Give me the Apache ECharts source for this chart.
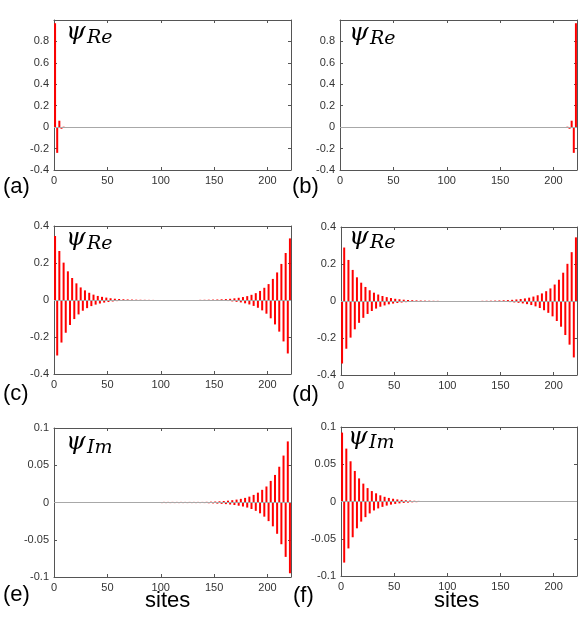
<!DOCTYPE html>
<html>
<head>
<meta charset="utf-8">
<script src="https://cdn.jsdelivr.net/npm/echarts@6/dist/echarts.min.js"></script>
<style>
html,body{margin:0;padding:0;background:#fff;}
#chart{width:582px;height:617px;}
</style>
</head>
<body>
<div id="chart"></div>
<script>
// ---- data ----
const panelLabels = ['(a)', '(b)', '(c)', '(d)', '(e)', '(f)'];
const psiSubs = ['Re', 'Re', 'Re', 'Re', 'Im', 'Im'];
const xTicks = [0, 50, 100, 150, 200];

const sitesA = [1, 3, 5, 7, 9, 11];
const valuesA = [0.97, -0.24, 0.06, -0.015, 0.004, -0.001];

const sitesB = [211, 213, 215, 217, 219, 221];
const valuesB = [-0.001, 0.004, -0.015, 0.06, -0.24, 0.97];

const sitesC = [1,3,5,7,9,11,13,15,17,19,21,23,25,27,29,31,33,35,37,39,41,43,45,47,49,51,53,55,57,59,61,63,65,67,69,71,73,75,77,79,81,83,85,87,89,91,93,
  135,137,139,141,143,145,147,149,151,153,155,157,159,161,163,165,167,169,171,173,175,177,179,181,183,185,187,189,191,193,195,197,199,201,203,205,207,209,211,213,215,217,219,221];
const valuesC = [0.346,-0.300,0.265,-0.230,0.202,-0.177,0.155,-0.135,0.119,-0.103,
  0.090,-0.078,0.068,-0.058,0.052,-0.044,0.039,-0.033,0.029,-0.025,
  0.022,-0.019,0.017,-0.014,0.013,-0.011,0.0095,-0.008,0.007,-0.006,
  0.0053,-0.0045,0.004,-0.0034,0.003,-0.0026,0.0023,-0.0019,0.0017,-0.0015,
  0.0013,-0.0011,0.001,-0.0008,0.0007,-0.0006,0.0005,
  -0.0008,0.0009,-0.001,0.0012,-0.0013,0.0016,-0.0018,0.0021,-0.0024,0.0028,
  -0.0032,0.0037,-0.0042,0.005,-0.0056,0.0066,-0.0075,0.009,-0.010,0.012,
  -0.013,0.016,-0.018,0.021,-0.024,0.028,-0.032,0.037,-0.042,0.049,
  -0.056,0.066,-0.074,0.086,-0.099,0.114,-0.132,0.149,-0.171,0.195,
  -0.224,0.254,-0.289,0.333];

const sitesD = [1,3,5,7,9,11,13,15,17,19,21,23,25,27,29,31,33,35,37,39,41,43,45,47,49,51,53,55,57,59,61,63,65,67,69,71,73,75,77,79,81,83,85,87,89,91,
  131,133,135,137,139,141,143,145,147,149,151,153,155,157,159,161,163,165,167,169,171,173,175,177,179,181,183,185,187,189,191,193,195,197,199,201,203,205,207,209,211,213,215,217,219,221];
const valuesD = [-0.338,0.289,-0.258,0.222,-0.198,0.168,-0.153,0.128,-0.118,0.099,
  -0.091,0.076,-0.070,0.058,-0.054,0.045,-0.041,0.035,-0.031,0.027,
  -0.024,0.021,-0.018,0.016,-0.014,0.012,-0.011,0.0093,-0.0083,0.0071,
  -0.0064,0.0055,-0.0049,0.0042,-0.0037,0.0032,-0.0029,0.0025,-0.0022,0.0019,
  -0.0017,0.0015,-0.0013,0.0011,-0.001,0.0009,
  -0.0009,0.001,-0.0012,0.0013,-0.0016,0.0017,-0.0021,0.0022,-0.0027,0.0029,
  -0.0035,0.0038,-0.0045,0.0049,-0.0059,0.0064,-0.0077,0.0083,-0.010,0.011,
  -0.013,0.014,-0.017,0.018,-0.022,0.024,-0.029,0.031,-0.038,0.041,
  -0.050,0.053,-0.064,0.068,-0.083,0.089,-0.108,0.115,-0.139,0.153,
  -0.184,0.201,-0.236,0.264,-0.305,0.344];

const sitesE = [101,103,105,107,109,111,113,115,117,119,121,123,125,127,129,131,133,135,137,139,
  141,143,145,147,149,151,153,155,157,159,161,163,165,167,169,171,173,175,177,179,
  181,183,185,187,189,191,193,195,197,199,201,203,205,207,209,211,213,215,217,219,221];
const valuesE = [-0.0008,0.0008,-0.0008,0.0008,-0.0008,0.0008,-0.0008,0.0008,-0.0008,0.0008,
  -0.0008,0.0008,-0.0008,0.0008,-0.0008,0.0008,-0.0008,0.0008,-0.0008,0.0008,
  -0.0008,0.0009,-0.001,0.0011,-0.0012,0.0013,-0.0015,0.0016,-0.0018,0.002,
  -0.0022,0.0025,-0.0027,0.0031,-0.0034,0.0039,-0.0043,0.0049,-0.0054,0.0062,
  -0.0068,0.0079,-0.0087,0.0102,-0.0112,0.0132,-0.0145,0.017,-0.019,0.0215,
  -0.025,0.029,-0.032,0.037,-0.042,0.048,-0.056,0.063,-0.073,0.082,-0.095];

const sitesF = [1,3,5,7,9,11,13,15,17,19,21,23,25,27,29,31,33,35,37,39,41,43,45,47,49,51,53,55,57,59,61,63,65,67,69,71,73,75,77];
const valuesF = [0.0925,-0.082,0.071,-0.063,0.054,-0.048,0.041,-0.036,0.031,-0.027,
  0.024,-0.021,0.018,-0.016,0.014,-0.012,0.011,-0.0093,0.0083,-0.0072,
  0.0063,-0.0055,0.0048,-0.0042,0.0037,-0.0032,0.0028,-0.0025,0.0022,-0.0019,
  0.0017,-0.0015,0.0013,-0.0011,0.001,-0.0009,0.0008,-0.0007,0.0006];

const yMins = [-0.4, -0.4, -0.4, -0.4, -0.1, -0.1];
const yMaxs = [1.0, 1.0, 0.4, 0.4, 0.1, 0.1];
const yIntervals = [0.2, 0.2, 0.2, 0.2, 0.05, 0.05];
const xMin = 0, xMax = 222, xInterval = 50;

// ---- layout ----
const grids = [
  {left: 54, top: 20, width: 237, height: 150},
  {left: 340, top: 20, width: 237, height: 150},
  {left: 54, top: 226, width: 237, height: 148},
  {left: 341, top: 227, width: 236, height: 148},
  {left: 54, top: 428, width: 237, height: 149},
  {left: 341, top: 427, width: 236, height: 149}
];
const panelSites = [sitesA, sitesB, sitesC, sitesD, sitesE, sitesF];
const panelValues = [valuesA, valuesB, valuesC, valuesD, valuesE, valuesF];

const axisColor = '#555';
const labelFont = {fontFamily: 'Liberation Sans', fontSize: 11, color: '#333'};

const xAxes = [], yAxes = [], series = [];
grids.forEach((g, i) => {
  xAxes.push({
    type: 'value', gridIndex: i, position: 'bottom', min: xMin, max: xMax, interval: xInterval,
    axisLine: {show: true, onZero: false, lineStyle: {color: axisColor, width: 1}},
    axisTick: {show: true, inside: true, length: 3, lineStyle: {color: axisColor}},
    axisLabel: Object.assign({show: true, margin: 5, showMaxLabel: false,
      formatter: v => (xTicks.indexOf(v) >= 0 ? String(v) : '')}, labelFont),
    splitLine: {show: false}
  });
  xAxes.push({
    type: 'value', gridIndex: i, position: 'top', min: xMin, max: xMax, interval: xInterval,
    axisLine: {show: true, onZero: false, lineStyle: {color: axisColor, width: 1}},
    axisTick: {show: true, inside: true, length: 3, lineStyle: {color: axisColor}},
    axisLabel: {show: false},
    splitLine: {show: false}
  });
  yAxes.push({
    type: 'value', gridIndex: i, position: 'left', min: yMins[i], max: yMaxs[i], interval: yIntervals[i],
    axisLine: {show: true, onZero: false, lineStyle: {color: axisColor, width: 1}},
    axisTick: {show: true, inside: true, length: 3, lineStyle: {color: axisColor}},
    axisLabel: Object.assign({show: true, margin: 5, showMaxLabel: i > 1}, labelFont),
    splitLine: {show: false}
  });
  yAxes.push({
    type: 'value', gridIndex: i, position: 'right', min: yMins[i], max: yMaxs[i], interval: yIntervals[i],
    axisLine: {show: true, onZero: false, lineStyle: {color: axisColor, width: 1}},
    axisTick: {show: true, inside: true, length: 3, lineStyle: {color: axisColor}},
    axisLabel: {show: false},
    splitLine: {show: false}
  });
  series.push({
    type: 'bar', xAxisIndex: 2 * i, yAxisIndex: 2 * i,
    data: panelSites[i].map((s, k) => [s, panelValues[i][k]]),
    barWidth: 2, barMinHeight: 0,
    itemStyle: {color: '#ff0000'},
    silent: true, animation: false,
    markLine: {
      silent: true, symbol: 'none', animation: false,
      label: {show: false},
      lineStyle: {color: '#a8a8a8', width: 1, type: 'solid'},
      data: [{yAxis: 0}]
    }
  });
});

// ---- text labels ----
const panelLabelPos = [[3, 176], [292, 176], [3, 383], [292, 384], [3, 584], [293, 585]];
const psiPos = [[66, 20], [349, 21], [66, 226], [349, 225], [66, 430], [348, 425]];
const graphics = [];
panelLabels.forEach((t, i) => {
  graphics.push({type: 'text', left: panelLabelPos[i][0], top: panelLabelPos[i][1],
    style: {text: t, font: '22px "Liberation Sans"', fill: '#000'}});
  graphics.push({type: 'text', left: psiPos[i][0], top: psiPos[i][1],
    style: {text: 'ψ', font: 'italic 25px "DejaVu Serif"', fill: '#000'}});
  graphics.push({type: 'text', left: psiPos[i][0] + 21, top: psiPos[i][1] + 9,
    style: {text: psiSubs[i], font: 'italic 19px "DejaVu Serif"', fill: '#000'}});
});
graphics.push({type: 'text', left: 145, top: 590, style: {text: 'sites', font: '22px "Liberation Sans"', fill: '#000'}});
graphics.push({type: 'text', left: 434, top: 590, style: {text: 'sites', font: '22px "Liberation Sans"', fill: '#000'}});

const chart = echarts.init(document.getElementById('chart'), null, {renderer: 'canvas'});
chart.setOption({
  animation: false,
  backgroundColor: '#fff',
  grid: grids,
  xAxis: xAxes,
  yAxis: yAxes,
  series: series,
  graphic: graphics
});
</script>
</body>
</html>
